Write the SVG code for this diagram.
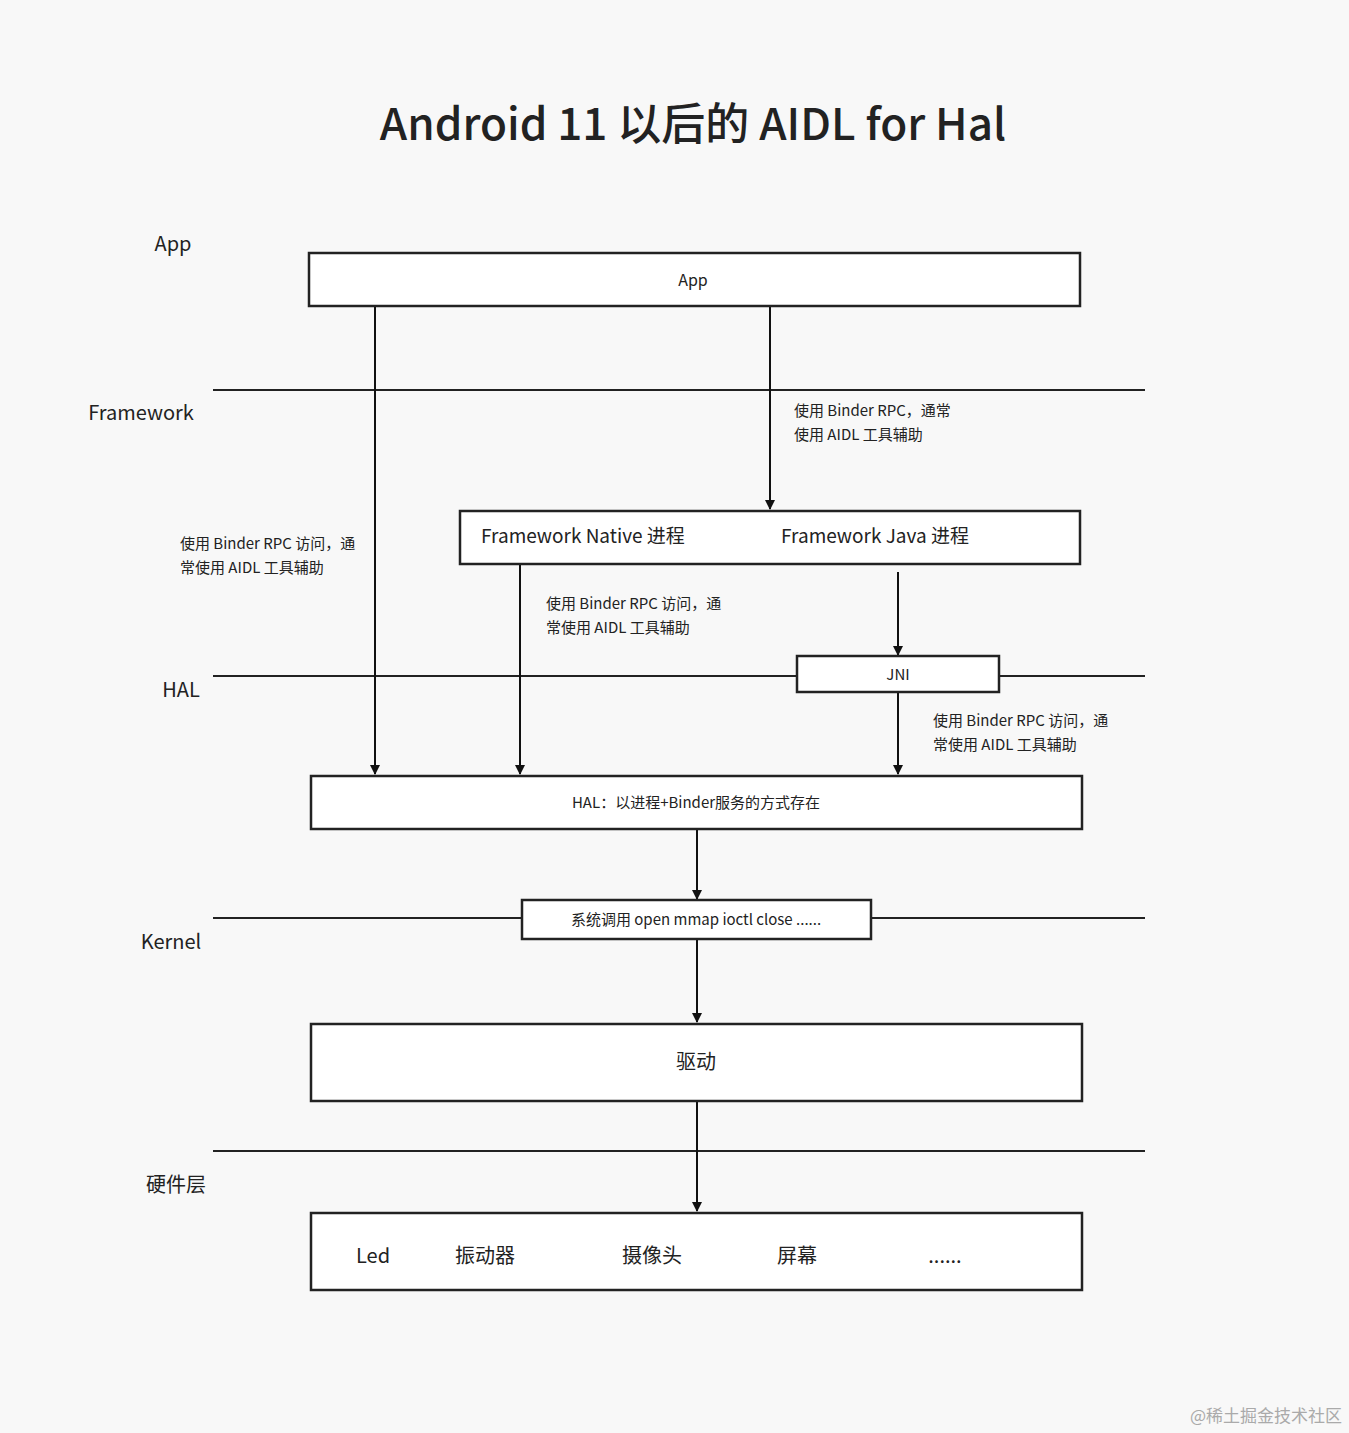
<svg xmlns="http://www.w3.org/2000/svg" width="1349" height="1433" viewBox="0 0 1349 1433">
<defs>
<marker id="ah" markerWidth="10" markerHeight="10" refX="9" refY="5" orient="auto" markerUnits="userSpaceOnUse"><path d="M0,0 L10,5 L0,10 z" fill="#111"/></marker>
<style>
text{font-family:"Noto Sans CJK SC","Noto Sans",sans-serif;fill:#222}
.box{fill:#fff;stroke:#222;stroke-width:2.5}
.ln{stroke:#222;stroke-width:2;fill:none}
.ar{stroke:#111;stroke-width:2;fill:none;marker-end:url(#ah)}
.lay{font-size:20px;text-anchor:middle}
.note{font-size:15px}
</style>
</defs>
<rect width="1349" height="1433" fill="#f8f8f8"/>
<text x="693" y="140" font-size="44" text-anchor="middle" font-weight="500">Android 11 以后的 AIDL for Hal</text>
<g id="layers">
<text class="lay" x="173" y="251">App</text>
<text class="lay" x="141" y="420">Framework</text>
<text class="lay" x="181" y="697">HAL</text>
<text class="lay" x="171" y="949">Kernel</text>
<text class="lay" x="176" y="1192">硬件层</text>
<line class="ln" x1="213" y1="390" x2="1145" y2="390"/>
<line class="ln" x1="213" y1="676" x2="1145" y2="676"/>
<line class="ln" x1="213" y1="918" x2="1145" y2="918"/>
<line class="ln" x1="213" y1="1151" x2="1145" y2="1151"/>
</g>
<g id="connectors">
<line class="ar" x1="375" y1="306" x2="375" y2="774"/>
<line class="ar" x1="770" y1="306" x2="770" y2="509"/>
<line class="ar" x1="520" y1="564" x2="520" y2="774"/>
<line class="ar" x1="898" y1="572" x2="898" y2="655"/>
<line class="ar" x1="898" y1="692" x2="898" y2="774"/>
<line class="ar" x1="697" y1="829" x2="697" y2="899"/>
<line class="ar" x1="697" y1="939" x2="697" y2="1022"/>
<line class="ar" x1="697" y1="1101" x2="697" y2="1211"/>
<text class="note" x="794" y="416">使用 Binder RPC，通常</text>
<text class="note" x="794" y="440">使用 AIDL 工具辅助</text>
<text class="note" x="180" y="549">使用 Binder RPC 访问，通</text>
<text class="note" x="180" y="573">常使用 AIDL 工具辅助</text>
<text class="note" x="546" y="609">使用 Binder RPC 访问，通</text>
<text class="note" x="546" y="633">常使用 AIDL 工具辅助</text>
<text class="note" x="933" y="726">使用 Binder RPC 访问，通</text>
<text class="note" x="933" y="750">常使用 AIDL 工具辅助</text>
</g>
<g id="app"><rect class="box" x="309" y="253" width="771" height="53"/><text x="693" y="286" font-size="16" text-anchor="middle">App</text></g>
<g id="framework"><rect class="box" x="460" y="511" width="620" height="53"/>
<text x="481" y="543" font-size="19">Framework Native 进程</text><text x="781" y="543" font-size="19">Framework Java 进程</text></g>
<g id="jni"><rect class="box" x="797" y="656" width="202" height="36"/><text x="898" y="680" font-size="15" text-anchor="middle">JNI</text></g>
<g id="hal"><rect class="box" x="311" y="776" width="771" height="53"/><text x="696" y="808" font-size="15" text-anchor="middle">HAL：以进程+Binder服务的方式存在</text></g>
<g id="syscall"><rect class="box" x="522" y="900" width="349" height="39"/><text x="696" y="925" font-size="15" text-anchor="middle">系统调用 open mmap ioctl close ......</text></g>
<g id="driver"><rect class="box" x="311" y="1024" width="771" height="77"/><text x="696" y="1069" font-size="20" text-anchor="middle">驱动</text></g>
<g id="hardware"><rect class="box" x="311" y="1213" width="771" height="77"/>
<text x="373" y="1263" font-size="20" text-anchor="middle">Led</text>
<text x="485" y="1263" font-size="20" text-anchor="middle">振动器</text>
<text x="652" y="1263" font-size="20" text-anchor="middle">摄像头</text>
<text x="797" y="1263" font-size="20" text-anchor="middle">屏幕</text>
<text x="945" y="1263" font-size="20" text-anchor="middle">......</text></g>
<text x="1342" y="1422" font-size="17" text-anchor="end" style="fill:#aaa">@稀土掘金技术社区</text>
</svg>
